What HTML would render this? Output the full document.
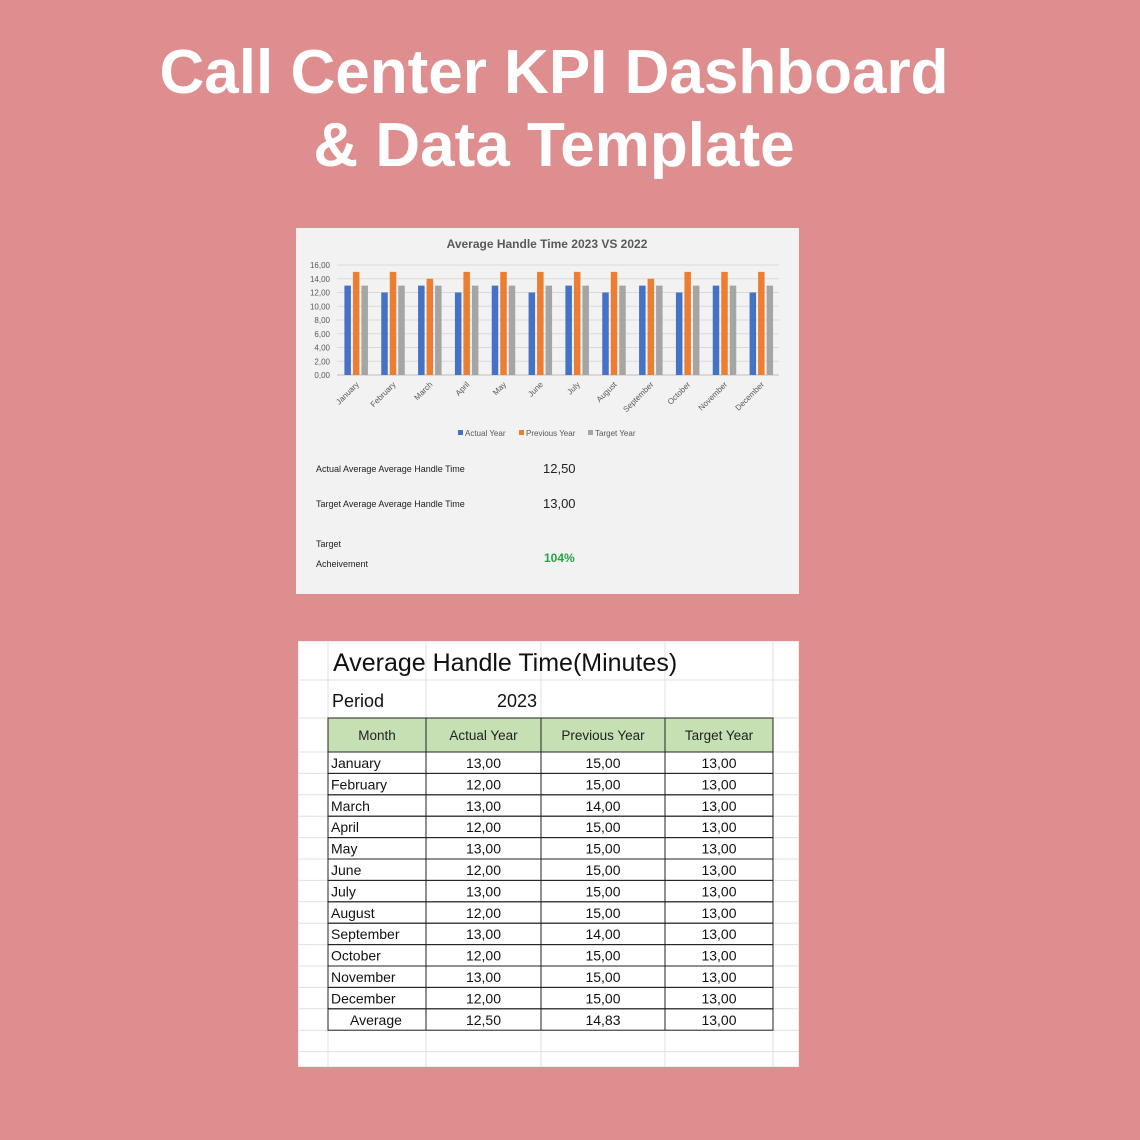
<!DOCTYPE html>
<html><head><meta charset="utf-8"><style>
body{margin:0;width:1140px;height:1140px;background:#df8e8f;position:relative;overflow:hidden;font-family:"Liberation Sans",sans-serif}
.t{position:absolute;left:0;width:1108px;text-align:center;color:#fff;font-weight:bold;font-size:62px;line-height:1}
.abs{position:absolute}
</style></head><body>
<div class="t" style="top:42px">Call Center KPI Dashboard</div>
<div class="t" style="top:115px">&amp; Data Template</div>
<div class="abs" style="left:296px;top:228px;width:503px;height:366px;background:#f2f2f2">
<svg id="chart" width="503" height="220" style="position:absolute;left:0;top:0"></svg>
<div class="abs" style="left:20px;top:236px;font-size:9px;color:#222">Actual Average Average Handle Time</div>
<div class="abs" style="left:247px;top:233px;font-size:13px;color:#222">12,50</div>
<div class="abs" style="left:20px;top:271px;font-size:9px;color:#222">Target Average Average Handle Time</div>
<div class="abs" style="left:247px;top:268px;font-size:13px;color:#222">13,00</div>
<div class="abs" style="left:20px;top:306px;font-size:9px;color:#222;line-height:20px">Target<br>Acheivement</div>
<div class="abs" style="left:248px;top:323px;font-size:12px;color:#1fa843;font-weight:bold">104%</div>
</div>
<div class="abs" style="left:298px;top:641px;width:501px;height:426px;background:#fff">
<svg id="tbl" width="501" height="426" style="position:absolute;left:0;top:0"></svg>
</div>
<script>
const months=["January","February","March","April","May","June","July","August","September","October","November","December"];
const actual=[13,12,13,12,13,12,13,12,13,12,13,12];
const previous=[15,15,14,15,15,15,15,15,14,15,15,15];
const target=[13,13,13,13,13,13,13,13,13,13,13,13];
const yTicks=[0,2,4,6,8,10,12,14,16];
const colors=["#4472c4","#ed7d31","#a5a5a5"];
const NS="http://www.w3.org/2000/svg";
function mk(p,t,a,txt){const e=document.createElementNS(NS,t);for(const k in a)e.setAttribute(k,a[k]);if(txt!==undefined)e.textContent=txt;p.appendChild(e);return e;}
const svg=document.getElementById('chart');
const x0=41,x1=483,yb=147,yt=37;
const y=v=>yb-(v/16)*(yb-yt);
const bw=(x1-x0)/12;
const tt=mk(svg,'text',{x:251,y:20,'text-anchor':'middle','font-size':12,'font-weight':'bold',fill:'#595959'},'Average Handle Time 2023 VS 2022');

yTicks.forEach(v=>{
 const l=mk(svg,'line',{x1:x0,x2:x1,y1:y(v),y2:y(v),stroke:v==0?'#bfbfbf':'#d9d9d9','stroke-width':1});
 
 const t=mk(svg,'text',{x:34,y:y(v)+3,'text-anchor':'end','font-size':8,fill:'#595959'},v.toFixed(2).replace('.',','));
 
});
[actual,previous,target].forEach((s,si)=>{s.forEach((v,i)=>{
 const cx=x0+bw*(i+0.5);
 const r=mk(svg,'rect',{x:cx-11+si*8.5,y:y(v),width:6.5,height:yb-y(v),fill:colors[si]});
 
 
});});
months.forEach((m,i)=>{
 const cx=x0+bw*(i+0.5)+4;
 const t=mk(svg,'text',{x:cx,y:yb+10,'text-anchor':'end','font-size':8,fill:'#595959',transform:`rotate(-45 ${cx} ${yb+10})`},m);
 
});
const leg=[["Actual Year",162],["Previous Year",223],["Target Year",292]];
leg.forEach((l,i)=>{
 const r=mk(svg,'rect',{x:l[1],y:202,width:5,height:5,fill:colors[i]});
 
 const t=mk(svg,'text',{x:l[1]+7,y:208,'font-size':8,fill:'#595959'},l[0]);
 
});
const tb=document.getElementById('tbl');
const cols=[0,30,128,243,367,475,501];
const rowsY=[0,39,77,111];
for(let i=1;i<=13;i++)rowsY.push(111+i*21.4);
rowsY.push(111+14*21.4,426);
rowsY.forEach(v=>{const l=mk(tb,'line',{x1:0,x2:501,y1:v,y2:v,stroke:'#e0e0e0'});});
cols.forEach(v=>{const l=mk(tb,'line',{x1:v,x2:v,y1:0,y2:426,stroke:'#e0e0e0'});});
const hdr=mk(tb,'rect',{x:30,y:77,width:445,height:34,fill:'#c6e0b4',stroke:'#222'});

const ttl=mk(tb,'text',{x:35,y:30,'font-size':25,fill:'#111'},'Average Handle Time(Minutes)');

const p1=mk(tb,'text',{x:34,y:66,'font-size':18,fill:'#111'},'Period');
const p2=mk(tb,'text',{x:239,y:66,'font-size':18,fill:'#111','text-anchor':'end'},'2023');
["Month","Actual Year","Previous Year","Target Year"].forEach((h,i)=>{
 const t=mk(tb,'text',{x:(cols[i+1]+cols[i+2])/2,y:99,'text-anchor':'middle','font-size':13.5,fill:'#222'},h);
 
 const l=mk(tb,'line',{x1:cols[i+1],x2:cols[i+1],y1:77,y2:111+13*21.4,stroke:'#222'});
 
});
const avgA=actual.reduce((a,b)=>a+b)/12,avgP=previous.reduce((a,b)=>a+b)/12,avgT=target.reduce((a,b)=>a+b)/12;
const f=v=>v.toFixed(2).replace('.',',');
const rows=months.map((m,i)=>[m,actual[i],previous[i],target[i]]);
rows.push(["Average",avgA,avgP,avgT]);
rows.forEach((r,i)=>{
 const top=111+i*21.4;
 const l=mk(tb,'rect',{x:30,y:top,width:445,height:21.4,fill:'none',stroke:'#222'});
 
 const t0=mk(tb,'text',{x:i==12?52:33,y:top+16,'font-size':14,fill:'#111'},r[0]);
 
 for(let c=1;c<4;c++){
  const t=mk(tb,'text',{x:(cols[c+1]+cols[c+2])/2,y:top+16,'text-anchor':'middle','font-size':14,fill:'#111'},f(r[c]));
  
 }
});
</script>
</body></html>
